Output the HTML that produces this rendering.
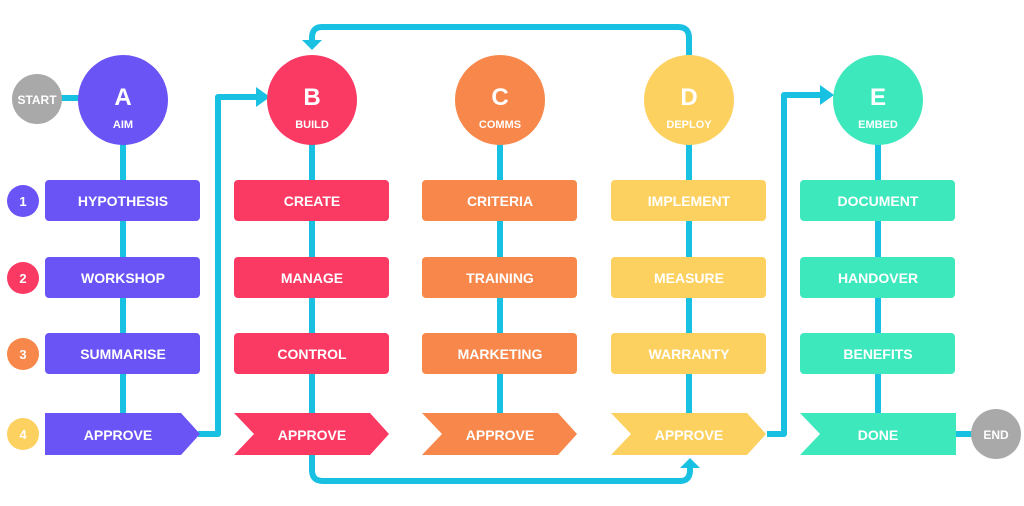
<!DOCTYPE html>
<html><head><meta charset="utf-8"><style>
html,body{margin:0;padding:0;background:#fff;width:1024px;height:506px;overflow:hidden}
text{font-family:"Liberation Sans",sans-serif;font-weight:bold;fill:#fff;text-anchor:middle}
</style></head><body>
<svg width="1024" height="506" viewBox="0 0 1024 506" xmlns="http://www.w3.org/2000/svg">
<g stroke="#18c0e2" stroke-width="6" fill="none" stroke-linejoin="round">
<line x1="123" y1="140" x2="123" y2="420"/>
<line x1="312" y1="140" x2="312" y2="420"/>
<line x1="500" y1="140" x2="500" y2="420"/>
<line x1="689" y1="140" x2="689" y2="420"/>
<line x1="878" y1="140" x2="878" y2="420"/>
<line x1="55" y1="98" x2="80" y2="98"/>
<line x1="950" y1="434" x2="975" y2="434"/>
<path d="M198 434 H218 V97 H258"/>
<path d="M767 434 H784 V95 H822"/>
<path d="M689 55 V38 Q689 27 678 27 H322 Q312 27 312 38 V42"/>
<path d="M312 452 V470 Q312 481 323 481 H680 Q690 481 690 470 V466"/>
</g>
<g fill="#18c0e2">
<polygon points="256,87 270,97 256,107"/>
<polygon points="820,85 834,95 820,105"/>
<polygon points="302,40 322,40 312,50"/>
<polygon points="680,468 700,468 690,458"/>
</g>
<circle cx="37" cy="99" r="25" fill="#a9a9a9"/><text x="37" y="104" font-size="12">START</text>
<circle cx="996" cy="434" r="25" fill="#a9a9a9"/><text x="996" y="439" font-size="12">END</text>
<circle cx="123" cy="100" r="45" fill="#6b54f5"/><text x="123" y="105" font-size="24">A</text><text x="123" y="128" font-size="11">AIM</text>
<circle cx="312" cy="100" r="45" fill="#fb3a64"/><text x="312" y="105" font-size="24">B</text><text x="312" y="128" font-size="11">BUILD</text>
<circle cx="500" cy="100" r="45" fill="#f7874a"/><text x="500" y="105" font-size="24">C</text><text x="500" y="128" font-size="11">COMMS</text>
<circle cx="689" cy="100" r="45" fill="#fdd15f"/><text x="689" y="105" font-size="24">D</text><text x="689" y="128" font-size="11">DEPLOY</text>
<circle cx="878" cy="100" r="45" fill="#3de8bd"/><text x="878" y="105" font-size="24">E</text><text x="878" y="128" font-size="11">EMBED</text>
<circle cx="23" cy="201" r="16" fill="#6b54f5"/><text x="23" y="206" font-size="13">1</text>
<circle cx="23" cy="278" r="16" fill="#fb3a64"/><text x="23" y="283" font-size="13">2</text>
<circle cx="23" cy="354" r="16" fill="#f7874a"/><text x="23" y="359" font-size="13">3</text>
<circle cx="23" cy="434" r="16" fill="#fdd15f"/><text x="23" y="439" font-size="13">4</text>
<g font-size="14">
<rect x="45" y="180" width="155" height="41" rx="4" fill="#6b54f5"/><text x="123" y="206">HYPOTHESIS</text>
<rect x="45" y="257" width="155" height="41" rx="4" fill="#6b54f5"/><text x="123" y="283">WORKSHOP</text>
<rect x="45" y="333" width="155" height="41" rx="4" fill="#6b54f5"/><text x="123" y="359">SUMMARISE</text>
<polygon points="45,413 181,413 200,434 181,455 45,455" fill="#6b54f5"/><text x="118" y="440">APPROVE</text>
<rect x="234" y="180" width="155" height="41" rx="4" fill="#fb3a64"/><text x="312" y="206">CREATE</text>
<rect x="234" y="257" width="155" height="41" rx="4" fill="#fb3a64"/><text x="312" y="283">MANAGE</text>
<rect x="234" y="333" width="155" height="41" rx="4" fill="#fb3a64"/><text x="312" y="359">CONTROL</text>
<polygon points="234,413 370,413 389,434 370,455 234,455 254,434" fill="#fb3a64"/><text x="312" y="440">APPROVE</text>
<rect x="422" y="180" width="155" height="41" rx="4" fill="#f7874a"/><text x="500" y="206">CRITERIA</text>
<rect x="422" y="257" width="155" height="41" rx="4" fill="#f7874a"/><text x="500" y="283">TRAINING</text>
<rect x="422" y="333" width="155" height="41" rx="4" fill="#f7874a"/><text x="500" y="359">MARKETING</text>
<polygon points="422,413 558,413 577,434 558,455 422,455 442,434" fill="#f7874a"/><text x="500" y="440">APPROVE</text>
<rect x="611" y="180" width="155" height="41" rx="4" fill="#fdd15f"/><text x="689" y="206">IMPLEMENT</text>
<rect x="611" y="257" width="155" height="41" rx="4" fill="#fdd15f"/><text x="689" y="283">MEASURE</text>
<rect x="611" y="333" width="155" height="41" rx="4" fill="#fdd15f"/><text x="689" y="359">WARRANTY</text>
<polygon points="611,413 747,413 766,434 747,455 611,455 631,434" fill="#fdd15f"/><text x="689" y="440">APPROVE</text>
<rect x="800" y="180" width="155" height="41" rx="4" fill="#3de8bd"/><text x="878" y="206">DOCUMENT</text>
<rect x="800" y="257" width="155" height="41" rx="4" fill="#3de8bd"/><text x="878" y="283">HANDOVER</text>
<rect x="800" y="333" width="155" height="41" rx="4" fill="#3de8bd"/><text x="878" y="359">BENEFITS</text>
<polygon points="800,413 956,413 956,455 800,455 820,434" fill="#3de8bd"/><text x="878" y="440">DONE</text>
</g>
</svg>
</body></html>
